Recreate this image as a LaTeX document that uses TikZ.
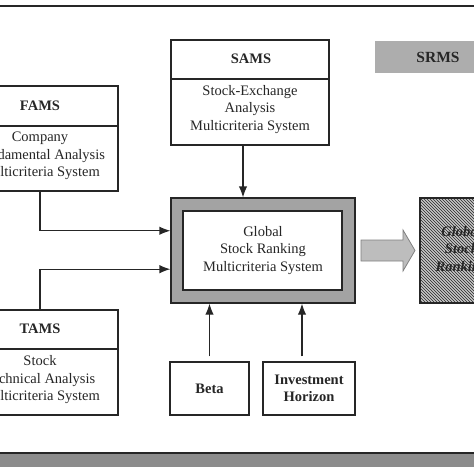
\documentclass[tikz,border=0pt]{standalone}
\usepackage{fontspec}
\setmainfont{Liberation Serif}
\usetikzlibrary{arrows.meta,patterns,calc}
\definecolor{linec}{gray}{0.15}
\definecolor{framegray}{gray}{0.64}
\definecolor{srmsgray}{gray}{0.68}
\definecolor{bargray}{gray}{0.55}
\definecolor{arrowgray}{gray}{0.74}
\begin{document}
\begin{tikzpicture}[x=1pt,y=-1pt,
  txt/.style={font=\fontsize{14.5}{17.5}\selectfont, align=center, inner sep=0pt, text=linec},
  hdr/.style={txt, font=\fontsize{14.5}{17.5}\selectfont\bfseries},
  boxx/.style={draw=linec, line width=1.2pt, fill=white, inner sep=0pt},
  conn/.style={draw=linec, line width=1.2pt, -{Latex[length=11pt,width=8.5pt]}},
  divl/.style={draw=linec, line width=1.2pt}]
\useasboundingbox (0,0) rectangle (474,474);
\clip (0,0) rectangle (474,474);
% top line and bottom bar
\draw[linec, line width=1.2pt] (-5,6) -- (480,6);
\fill[bargray] (-5,453) rectangle (480,467);
\draw[linec, line width=1.5pt] (-5,453) -- (480,453);
% SRMS label
\node[fill=srmsgray, minimum width=126pt, minimum height=32pt, inner sep=0pt] (srms) at (438,57) {};
\node[hdr, font=\fontsize{15.5}{18}\selectfont\bfseries] (srmst) at (438,57) {SRMS};
% FAMS
\node[boxx, minimum width=156pt, minimum height=105pt] (fams) at (40,138.5) {};
\draw[divl] (fams.west |- 0,126) -- (fams.east |- 0,126);
\node[hdr] (famsh) at (40,106) {FAMS};
\node[txt] (famsb) at (40,156) {Company\\Fundamental Analysis\\Multicriteria System};
% SAMS
\node[boxx, minimum width=158pt, minimum height=105pt] (sams) at (250,92.5) {};
\draw[divl] (sams.west |- 0,79) -- (sams.east |- 0,79);
\node[hdr] (samsh) at (251,59) {SAMS};
\node[txt] (samsb) at (250,109.5) {Stock-Exchange\\Analysis\\Multicriteria System};
% TAMS
\node[boxx, minimum width=156pt, minimum height=105pt] (tams) at (40,362.5) {};
\draw[divl] (tams.west |- 0,349) -- (tams.east |- 0,349);
\node[hdr] (tamsh) at (40,329) {TAMS};
\node[txt] (tamsb) at (40,380) {Stock\\Technical Analysis\\Multicriteria System};
% Global
\node[draw=linec, line width=1.2pt, fill=framegray, minimum width=184pt, minimum height=105pt, inner sep=0pt] (glob) at (263,250.5) {};
\node[boxx, minimum width=159pt, minimum height=79pt] (globin) at (262.5,250.5) {};
\node[txt] (globt) at (263,250.5) {Global\\Stock Ranking\\Multicriteria System};
% Beta and Horizon
\node[boxx, minimum width=79pt, minimum height=53pt] (beta) at (209.5,388.5) {};
\node[hdr] (betat) at (209.5,388.5) {Beta};
\node[boxx, minimum width=92pt, minimum height=53pt] (hor) at (309,388.5) {};
\node[hdr] (hort) at (309,388.5) {Investment\\Horizon};
% Output ranking
\node[draw=linec, line width=1.2pt, preaction={fill=black!22}, pattern=north west lines, pattern color=linec, minimum width=83pt, minimum height=105pt, inner sep=0pt] (rank) at (461.5,250.5) {};
\node[txt, font=\fontsize{14.5}{17.5}\selectfont\bfseries\itshape] (rankt) at (461.5,250.5) {Global\\Stock\\Ranking};
% big arrow
\draw[draw=black!50, fill=arrowgray, line width=0.8pt] (361,240) -- (403,240) -- (403,230) -- (415,250.5) -- (403,271) -- (403,261) -- (361,261) -- cycle;
% connectors
\draw[conn] (fams.south) |- ($(glob.north west)!0.314!(glob.south west)$);
\draw[conn] (tams.north) |- ($(glob.north west)!0.676!(glob.south west)$);
\draw[conn] (sams.south -| 243,0) -- (glob.north -| 243,0);
\draw[conn, shorten <=5pt] (beta.north) -- (beta.north |- glob.south);
\draw[conn, shorten <=5pt] (hor.north -| 302,0) -- (glob.south -| 302,0);
\end{tikzpicture}
\end{document}
